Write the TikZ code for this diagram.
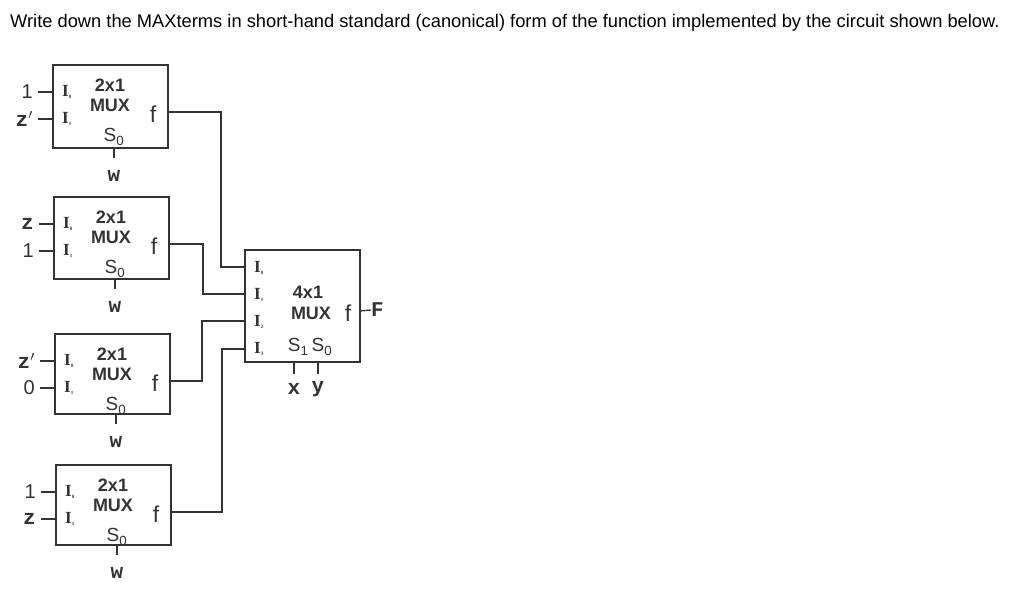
\documentclass[tikz,border=0pt]{standalone}
\usepackage{fontspec}
\setmainfont{Liberation Sans}
\newfontfamily\cour{Liberation Mono}
\newfontfamily\tim{Liberation Serif}
\newcommand{\vv}[1]{{\cour\bfseries\fontsize{21}{21}\selectfont #1}}
\newcommand{\nn}[1]{{\fontsize{20}{20}\selectfont #1}}
\begin{document}
\begin{tikzpicture}[x=1pt,y=-1pt,
  wire/.style={draw=black!80,line width=1.3pt},
  box/.style={draw=black!80,line width=1.6pt},
  lab/.style={font=\fontsize{18}{18}\selectfont\bfseries\color{black!80},inner sep=0pt},
  pin/.style={font=\tim\bfseries\fontsize{17}{17}\selectfont\color{black!80},inner sep=0pt},
  var/.style={font=\cour\bfseries\fontsize{21}{21}\selectfont\color{black!80},inner sep=0pt}]
\useasboundingbox (0,0) rectangle (1024,597);
\node[anchor=west,font=\fontsize{18.3}{18.3}\selectfont,inner sep=0pt] (title) at (10,23) {Write down the MAXterms in short-hand standard (canonical) form of the function implemented by the circuit shown below.};
\newcommand{\muxtwo}[6]{% name, x, ytop, ybottom, in0, in1
  \draw[box] (#2,#3) rectangle ++(115,#4-#3) coordinate (#1br);
  \coordinate (#1o) at (#2+115,#3+47);
  \node[pin] (#1p0) at (#2+14,#3+27) {I\textsubscript{\tiny0}};
  \node[pin] (#1p1) at (#2+14,#3+54) {I\textsubscript{\tiny1}};
  \node[lab] (#1t) at (#2+57,#3+20) {2x1};
  \node[lab] (#1m) at (#2+57,#3+40) {MUX};
  \node[font=\fontsize{23}{23}\selectfont\color{black!80},inner sep=0pt] (#1f) at (#2+100,#3+49) {f};
  \node[font=\fontsize{19}{19}\selectfont\color{black!80},inner sep=0pt] (#1s) at (#2+61,#3+72) {S\textsubscript{0}};
  \node[var] (#1w) at (#2+61,#4+28) {w};
  \draw[wire] (#2+61,#4) -- ++(0,10);
  \draw[wire] (#2,#3+27) -- ++(-15,0) coordinate (#1i0);
  \draw[wire] (#2,#3+54) -- ++(-15,0) coordinate (#1i1);
  \node[anchor=east,inner sep=0pt,color=black!80] (#1l0) at ([xshift=-5pt]#1i0) {#5};
  \node[anchor=east,inner sep=0pt,color=black!80] (#1l1) at ([xshift=-5pt]#1i1) {#6};
}
\muxtwo{a}{53}{65}{148}{\nn{1}}{\vv{z$'$}}
\muxtwo{b}{54}{197}{279}{\vv{z}}{\nn{1}}
\muxtwo{c}{55}{334}{414}{\vv{z$'$}}{\nn{0}}
\muxtwo{d}{56}{465}{545}{\nn{1}}{\vv{z}}
% big mux
\draw[box] (245,250) rectangle (360,362);
\node[pin] (q0) at (259,268) {I\textsubscript{\tiny0}};
\node[pin] (q1) at (259,295) {I\textsubscript{\tiny1}};
\node[pin] (q2) at (259,322) {I\textsubscript{\tiny2}};
\node[pin] (q3) at (259,349) {I\textsubscript{\tiny3}};
\node[lab] (qt) at (308,292) {4x1};
\node[lab] (qm) at (311,313) {MUX};
\node[font=\fontsize{23}{23}\selectfont\color{black!80},inner sep=0pt] (qf) at (348,313) {f};
\node[font=\fontsize{19}{19}\selectfont\color{black!80},inner sep=0pt] (qs) at (310,347) {S\textsubscript{1}\,S\textsubscript{0}};
\node[var] (x) at (294,389) {x};
\node[var] (y) at (318,389) {y};
\node[var,anchor=west] (F) at (371,310) {F};
\draw[wire] (294,362) -- (294,374);
\draw[wire] (318,362) -- (318,374);
\draw[wire] (360,311) -- (F.west);
\draw[wire] (ao) -- (221,112) |- (245,267);
\draw[wire] (bo) -- (203,244) |- (245,294);
\draw[wire] (co) -- (202,381) |- (245,321);
\draw[wire] (do) -- (222,512) |- (245,349);
\end{tikzpicture}
\end{document}
